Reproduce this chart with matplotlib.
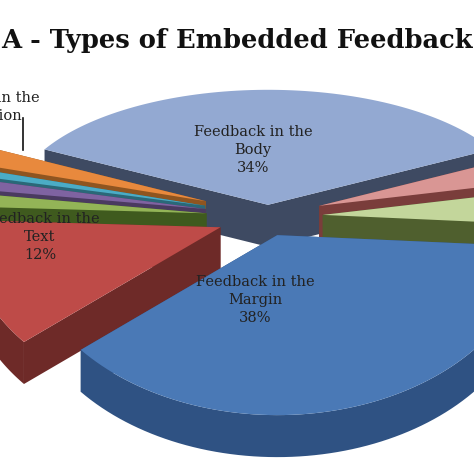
import numpy as np
import matplotlib
matplotlib.use("Agg")
import matplotlib.pyplot as plt
from matplotlib.patches import Polygon

labels = ["Feedback in the\nBody", "Pink", "LightGreen", "Feedback in the\nMargin",
          "Feedback in the\nText", "DarkGreen", "Purple", "Teal", "Feedback in the\nConclusion"]
values = [34, 4, 5, 38, 12, 2, 1.5, 1, 2.5]
tops = ["#93A9D2", "#D99694", "#C3D69B", "#4A79B6", "#BE4B48", "#93B457", "#7F63A1", "#4BACC6", "#E8893D"]
sides = ["#3E4A62", "#7A3D3B", "#4F5F2E", "#2F5283", "#6E2A28", "#3F5A1E", "#4A3A60", "#2A6878", "#8F5520"]
explode = [22, 55, 55, 30, 50, 62, 64, 66, 68]

fig = plt.figure(figsize=(4.74, 4.74), dpi=100)
ax = fig.add_axes([0, 0, 1, 1])
ax.set_xlim(0, 474); ax.set_ylim(474, 0); ax.axis("off")

cx, cy, rx, ryb, ryf, d = 268, 218, 255, 115, 180, 42

def pt(a, ox, oy):
    r = np.radians(a)
    s = np.sin(r)
    ry = ryb if s > 0 else ryf
    return ox + rx * np.cos(r), oy - ry * s

start = 90 + values[0] / 100 * 180
wedges = []
a = start
for i, v in enumerate(values):
    a1 = a; a2 = a - v / 100 * 360
    m = np.radians((a1 + a2) / 2)
    ox = cx + explode[i] * np.cos(m)
    oy = cy - explode[i] * 0.6 * np.sin(m)
    wedges.append((i, a1, a2, ox, oy, np.sin(m)))
    a = a2

for i, a1, a2, ox, oy, sm in sorted(wedges, key=lambda w: -w[5]):
    angs = np.linspace(a2, a1, 80)
    arc = np.array([pt(t, ox, oy) for t in angs])
    for t in (a1, a2):
        p = pt(t, ox, oy)
        ax.add_patch(Polygon([(ox, oy), p, (p[0], p[1] + d), (ox, oy + d)],
                             closed=True, fc=sides[i], ec="none"))
    front = [t for t in angs if np.sin(np.radians(t)) <= 0.02]
    if front:
        fa = np.array([pt(t, ox, oy) for t in front])
        poly = np.vstack([fa, (fa + [0, d])[::-1]])
        ax.add_patch(Polygon(poly, closed=True, fc=sides[i], ec="none"))
    ax.add_patch(Polygon(np.vstack([[ox, oy], arc]), closed=True, fc=tops[i], ec="none"))

font = dict(family="DejaVu Serif", fontsize=10.5, color="#222222", ha="center", va="center",
            linespacing=1.35)
ax.text(253, 150, labels[0] + f"\n{values[0]}%", **font)
ax.text(255, 300, labels[3] + f"\n{values[3]}%", **font)
ax.text(40, 237, labels[4] + f"\n{values[4]}%", **font)
ax.text(-20, 107, labels[8], **font)
ax.plot([23, 23], [118, 150], color="#111111", lw=1.2)

ax.text(237, 40, "A - Types of Embedded Feedback", family="DejaVu Serif", fontsize=18.5,
        fontweight="bold", ha="center", va="center", color="#111111")
fig.savefig("out.png", dpi=100)
